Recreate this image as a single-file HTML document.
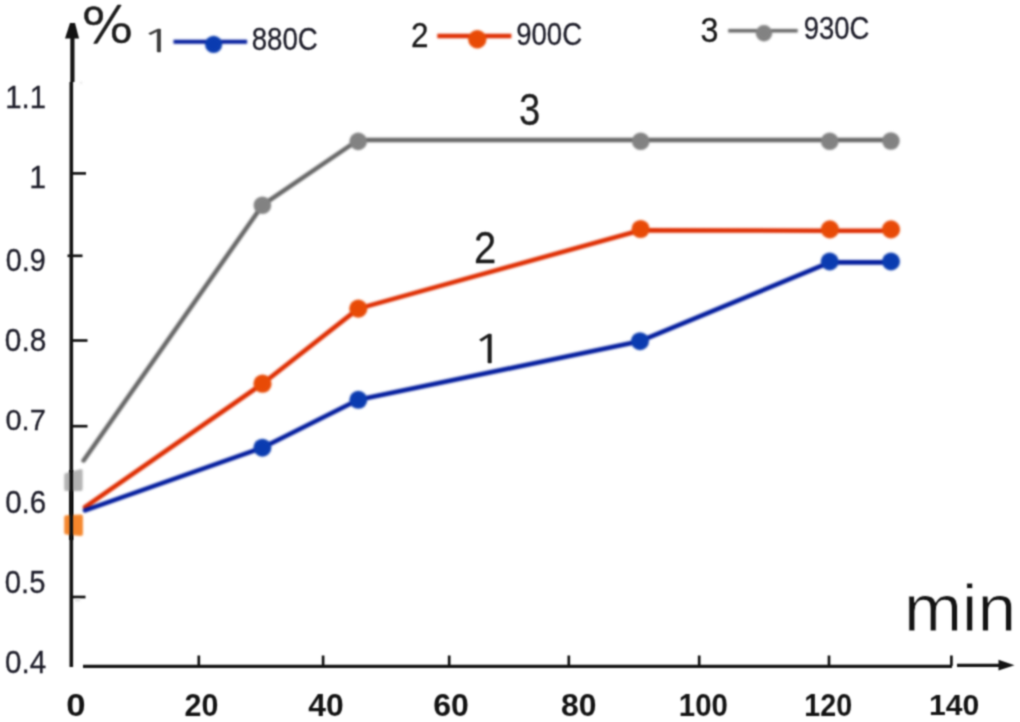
<!DOCTYPE html>
<html><head><meta charset="utf-8"><title>chart</title>
<style>
html,body{margin:0;padding:0;background:#fff;}
body{width:1020px;height:722px;overflow:hidden;}
svg{display:block;}
text{font-family:"Liberation Sans",Arial,sans-serif;}
</style></head>
<body>
<svg width="1020" height="722" viewBox="0 0 1020 722">
<defs>
<filter id="fa" filterUnits="userSpaceOnUse" x="0" y="0" width="1020" height="722" color-interpolation-filters="sRGB"><feConvolveMatrix order="7" kernelMatrix="0.00000 0.00001 0.00010 0.00022 0.00010 0.00001 0.00000 0.00001 0.00048 0.00500 0.01093 0.00500 0.00048 0.00001 0.00010 0.00500 0.05213 0.11385 0.05213 0.00500 0.00010 0.00022 0.01093 0.11385 0.24868 0.11385 0.01093 0.00022 0.00010 0.00500 0.05213 0.11385 0.05213 0.00500 0.00010 0.00001 0.00048 0.00500 0.01093 0.00500 0.00048 0.00001 0.00000 0.00001 0.00010 0.00022 0.00010 0.00001 0.00000" divisor="1" edgeMode="none" preserveAlpha="false"/></filter>
<filter id="fb" filterUnits="userSpaceOnUse" x="0" y="0" width="1020" height="722" color-interpolation-filters="sRGB"><feConvolveMatrix order="7" kernelMatrix="0.00021 0.00122 0.00345 0.00488 0.00345 0.00122 0.00021 0.00122 0.00691 0.01958 0.02771 0.01958 0.00691 0.00122 0.00345 0.01958 0.05549 0.07852 0.05549 0.01958 0.00345 0.00488 0.02771 0.07852 0.11112 0.07852 0.02771 0.00488 0.00345 0.01958 0.05549 0.07852 0.05549 0.01958 0.00345 0.00122 0.00691 0.01958 0.02771 0.01958 0.00691 0.00122 0.00021 0.00122 0.00345 0.00488 0.00345 0.00122 0.00021" divisor="1" edgeMode="none" preserveAlpha="false"/></filter>
</defs>
<rect width="1020" height="722" fill="#fff"/>
<g filter="url(#fa)">
<g fill="#111"><rect x="70.3" y="36" width="4.2" height="46"/><polygon points="70,23 75,23 79,38.5 65,38.5"/><rect x="69.5" y="82" width="3.6" height="585"/></g>
<g stroke="#111" stroke-width="2.7" fill="none"><line x1="71" y1="173.4" x2="86" y2="173.4"/><line x1="67.5" y1="255.8" x2="82.5" y2="255.8"/><line x1="71" y1="340.5" x2="87.5" y2="340.5"/><line x1="71" y1="426.2" x2="87.5" y2="426.2"/><line x1="71" y1="597" x2="85.5" y2="597"/></g>
<g stroke="#111" stroke-width="3.2" fill="none"><line x1="83" y1="666.3" x2="952" y2="666.3"/><line x1="957" y1="665.3" x2="1000" y2="665.3"/></g>
<polygon points="998.5,659.8 1014.5,665.2 998.5,670.6" fill="#111"/>
<g stroke="#111" stroke-width="2.7" fill="none"><line x1="198.8" y1="655.5" x2="198.8" y2="666"/><line x1="323.1" y1="655.5" x2="323.1" y2="666"/><line x1="449.2" y1="655.5" x2="449.2" y2="666"/><line x1="568.8" y1="655.5" x2="568.8" y2="666"/><line x1="699.2" y1="655.5" x2="699.2" y2="666"/><line x1="829" y1="655.5" x2="829" y2="666"/><line x1="951.4" y1="655.5" x2="951.4" y2="666"/></g>
</g>
<g filter="url(#fb)">
<g fill="none" stroke-linejoin="round" stroke-linecap="round"><polyline points="83.6,460.5 262.4,205.2 358.2,140 640.7,140 829.7,140 890.9,140" stroke="#666666" stroke-width="4.5"/><polyline points="85,507.2 262.5,383.7 358.3,308.6 640.6,230.2 829.9,230.7 891,230.7" stroke="#de2c00" stroke-width="4.6"/><polyline points="85,510.3 262.4,447.7 358.3,399.8 640,341.2 829.7,262.4 891,262.4" stroke="#001a9c" stroke-width="4.6"/></g>
<g fill="#828282"><circle cx="262.4" cy="205.2" r="8.8"/><circle cx="358.2" cy="141.4" r="8.8"/><circle cx="640.7" cy="141.3" r="8.8"/><circle cx="829.7" cy="141.2" r="8.8"/><circle cx="890.9" cy="141" r="8.8"/></g>
<g fill="#e84a06"><circle cx="262.5" cy="383.7" r="9.1"/><circle cx="358.3" cy="308.6" r="9.1"/><circle cx="640.6" cy="229" r="9.1"/><circle cx="829.9" cy="229.4" r="9.1"/><circle cx="891" cy="229.4" r="9.1"/></g>
<g fill="#0a3bb0"><circle cx="262.4" cy="447.7" r="9"/><circle cx="358.3" cy="399.8" r="9"/><circle cx="640" cy="341.2" r="9"/><circle cx="829.7" cy="261.5" r="9"/><circle cx="891" cy="261.5" r="9"/></g>
<path d="M66,473 L81,469 Q82.6,468.8 82.6,471 L82.6,489 Q82.6,491 80.6,491 L66,491 Q64.2,491 64.2,489 L64.2,475 Q64.2,473.4 66,473 Z" fill="#b3b3b3"/>
<path d="M66.2,515.2 L80.6,514.4 Q82.9,514.3 82.9,516.5 L82.9,534 Q82.9,536 80.9,536 L66.2,534.6 Q64.2,534.4 64.2,532.4 L64.2,517.2 Q64.2,515.3 66.2,515.2 Z" fill="#f5862c"/>
<rect x="75" y="599.5" width="5" height="1.6" fill="#d0d0d0"/><circle cx="81.2" cy="82.8" r="1" fill="#d8d8d8"/>
<line x1="173.5" y1="41.7" x2="247.1" y2="41.7" stroke="#001a9c" stroke-width="4"/><circle cx="213.6" cy="44.4" r="8.6" fill="#0a3bb0"/>
<line x1="437.3" y1="36" x2="511.4" y2="36" stroke="#de2c00" stroke-width="4.4"/><circle cx="477.3" cy="39.2" r="9.2" fill="#e84a06"/>
<line x1="728.2" y1="30.7" x2="797.7" y2="30.7" stroke="#666666" stroke-width="3.6"/><circle cx="764" cy="33.3" r="8.2" fill="#828282"/>
</g>
<g filter="url(#fa)">
<rect x="69.5" y="470" width="3.6" height="70" fill="#111"/>
<text transform="matrix(1.1417 0 0 1 77.44 43.12)" font-size="48.23" style="font-family:NanumGothic,&quot;Liberation Sans&quot;,sans-serif" fill="#1a1a1a" color="#1a1a1a" stroke-width="0.5" stroke="currentColor">%</text>
<text transform="matrix(1.0405 0 0 1 903.92 631.30)" font-size="67.00" fill="#111" color="#111" stroke="#fff" stroke-width="0.8">min</text>
<text transform="matrix(1.7069 0 0 1 141.13 51.77)" font-size="30.97" style="font-family:NanumGothic,&quot;Liberation Sans&quot;,sans-serif" fill="#3a3a3a" color="#3a3a3a" stroke-width="0.3" stroke="currentColor">1</text>
<text transform="matrix(0.8800 0 0 1 410.95 46.84)" font-size="35.77" fill="#161616" color="#161616" stroke-width="0.3" stroke="currentColor">2</text>
<text transform="matrix(0.9421 0 0 1 700.53 41.50)" font-size="34.28" fill="#161616" color="#161616" stroke-width="0.3" stroke="currentColor">3</text>
<text transform="matrix(0.9053 0 0 1 251.73 50.05)" font-size="30.54" fill="#1c1c28" color="#1c1c28" stroke-width="0.3" stroke="currentColor">880C</text>
<text transform="matrix(0.8622 0 0 1 516.22 44.88)" font-size="31.97" fill="#1c1c28" color="#1c1c28" stroke-width="0.3" stroke="currentColor">900C</text>
<text transform="matrix(0.8993 0 0 1 803.65 38.87)" font-size="30.54" fill="#1c1c28" color="#1c1c28" stroke-width="0.3" stroke="currentColor">930C</text>
<text transform="matrix(0.9277 0 0 1 5.15 108.16)" font-size="31.65" fill="#1c1c28" color="#1c1c28" stroke-width="0.3" stroke="currentColor">1.1</text>
<text transform="matrix(0.9684 0 0 1 29.21 188.00)" font-size="31.36" fill="#1c1c28" color="#1c1c28" stroke-width="0.3" stroke="currentColor">1</text>
<text transform="matrix(0.9302 0 0 1 5.66 270.57)" font-size="31.04" fill="#1c1c28" color="#1c1c28" stroke-width="0.3" stroke="currentColor">0.9</text>
<text transform="matrix(0.9487 0 0 1 4.82 350.71)" font-size="31.49" fill="#1c1c28" color="#1c1c28" stroke-width="0.3" stroke="currentColor">0.8</text>
<text transform="matrix(0.9790 0 0 1 5.42 430.42)" font-size="29.75" fill="#1c1c28" color="#1c1c28" stroke-width="0.3" stroke="currentColor">0.7</text>
<text transform="matrix(0.9660 0 0 1 5.18 513.37)" font-size="30.54" fill="#1c1c28" color="#1c1c28" stroke-width="0.3" stroke="currentColor">0.6</text>
<text transform="matrix(0.9206 0 0 1 4.81 593.10)" font-size="31.77" fill="#1c1c28" color="#1c1c28" stroke-width="0.3" stroke="currentColor">0.5</text>
<text transform="matrix(0.9587 0 0 1 5.09 672.83)" font-size="30.93" fill="#1c1c28" color="#1c1c28" stroke-width="0.3" stroke="currentColor">0.4</text>
<text transform="matrix(1.1119 0 0 1 66.27 715.69)" font-size="31.27" font-weight="bold" fill="#111" color="#111">0</text>
<text transform="matrix(0.9742 0 0 1 184.59 715.69)" font-size="31.27" font-weight="bold" fill="#111" color="#111">20</text>
<text transform="matrix(1.0278 0 0 1 308.36 715.69)" font-size="30.99" font-weight="bold" fill="#111" color="#111">40</text>
<text transform="matrix(1.0039 0 0 1 433.28 715.92)" font-size="31.92" font-weight="bold" fill="#111" color="#111">60</text>
<text transform="matrix(1.0197 0 0 1 561.04 715.69)" font-size="31.27" font-weight="bold" fill="#111" color="#111">80</text>
<text transform="matrix(0.9489 0 0 1 678.80 715.69)" font-size="30.99" font-weight="bold" fill="#111" color="#111">100</text>
<text transform="matrix(0.9167 0 0 1 804.28 715.69)" font-size="31.27" font-weight="bold" fill="#111" color="#111">120</text>
<text transform="matrix(1.0332 0 0 1 929.03 715.43)" font-size="29.18" font-weight="bold" fill="#111" color="#111">140</text>
<text transform="matrix(0.8625 0 0 1 519.03 124.68)" font-size="44.45" fill="#1a1a1a" color="#1a1a1a" stroke-width="0.3" stroke="currentColor">3</text>
<text transform="matrix(0.9091 0 0 1 474.00 262.60)" font-size="44.00" fill="#1a1a1a" color="#1a1a1a" stroke-width="0.3" stroke="currentColor">2</text>
<text transform="matrix(1.3493 0 0 1 472.35 363.30)" font-size="38.67" style="font-family:NanumGothic,&quot;Liberation Sans&quot;,sans-serif" fill="#1a1a1a" color="#1a1a1a" stroke-width="0.3" stroke="currentColor">1</text>
</g>
</svg>
</body></html>
